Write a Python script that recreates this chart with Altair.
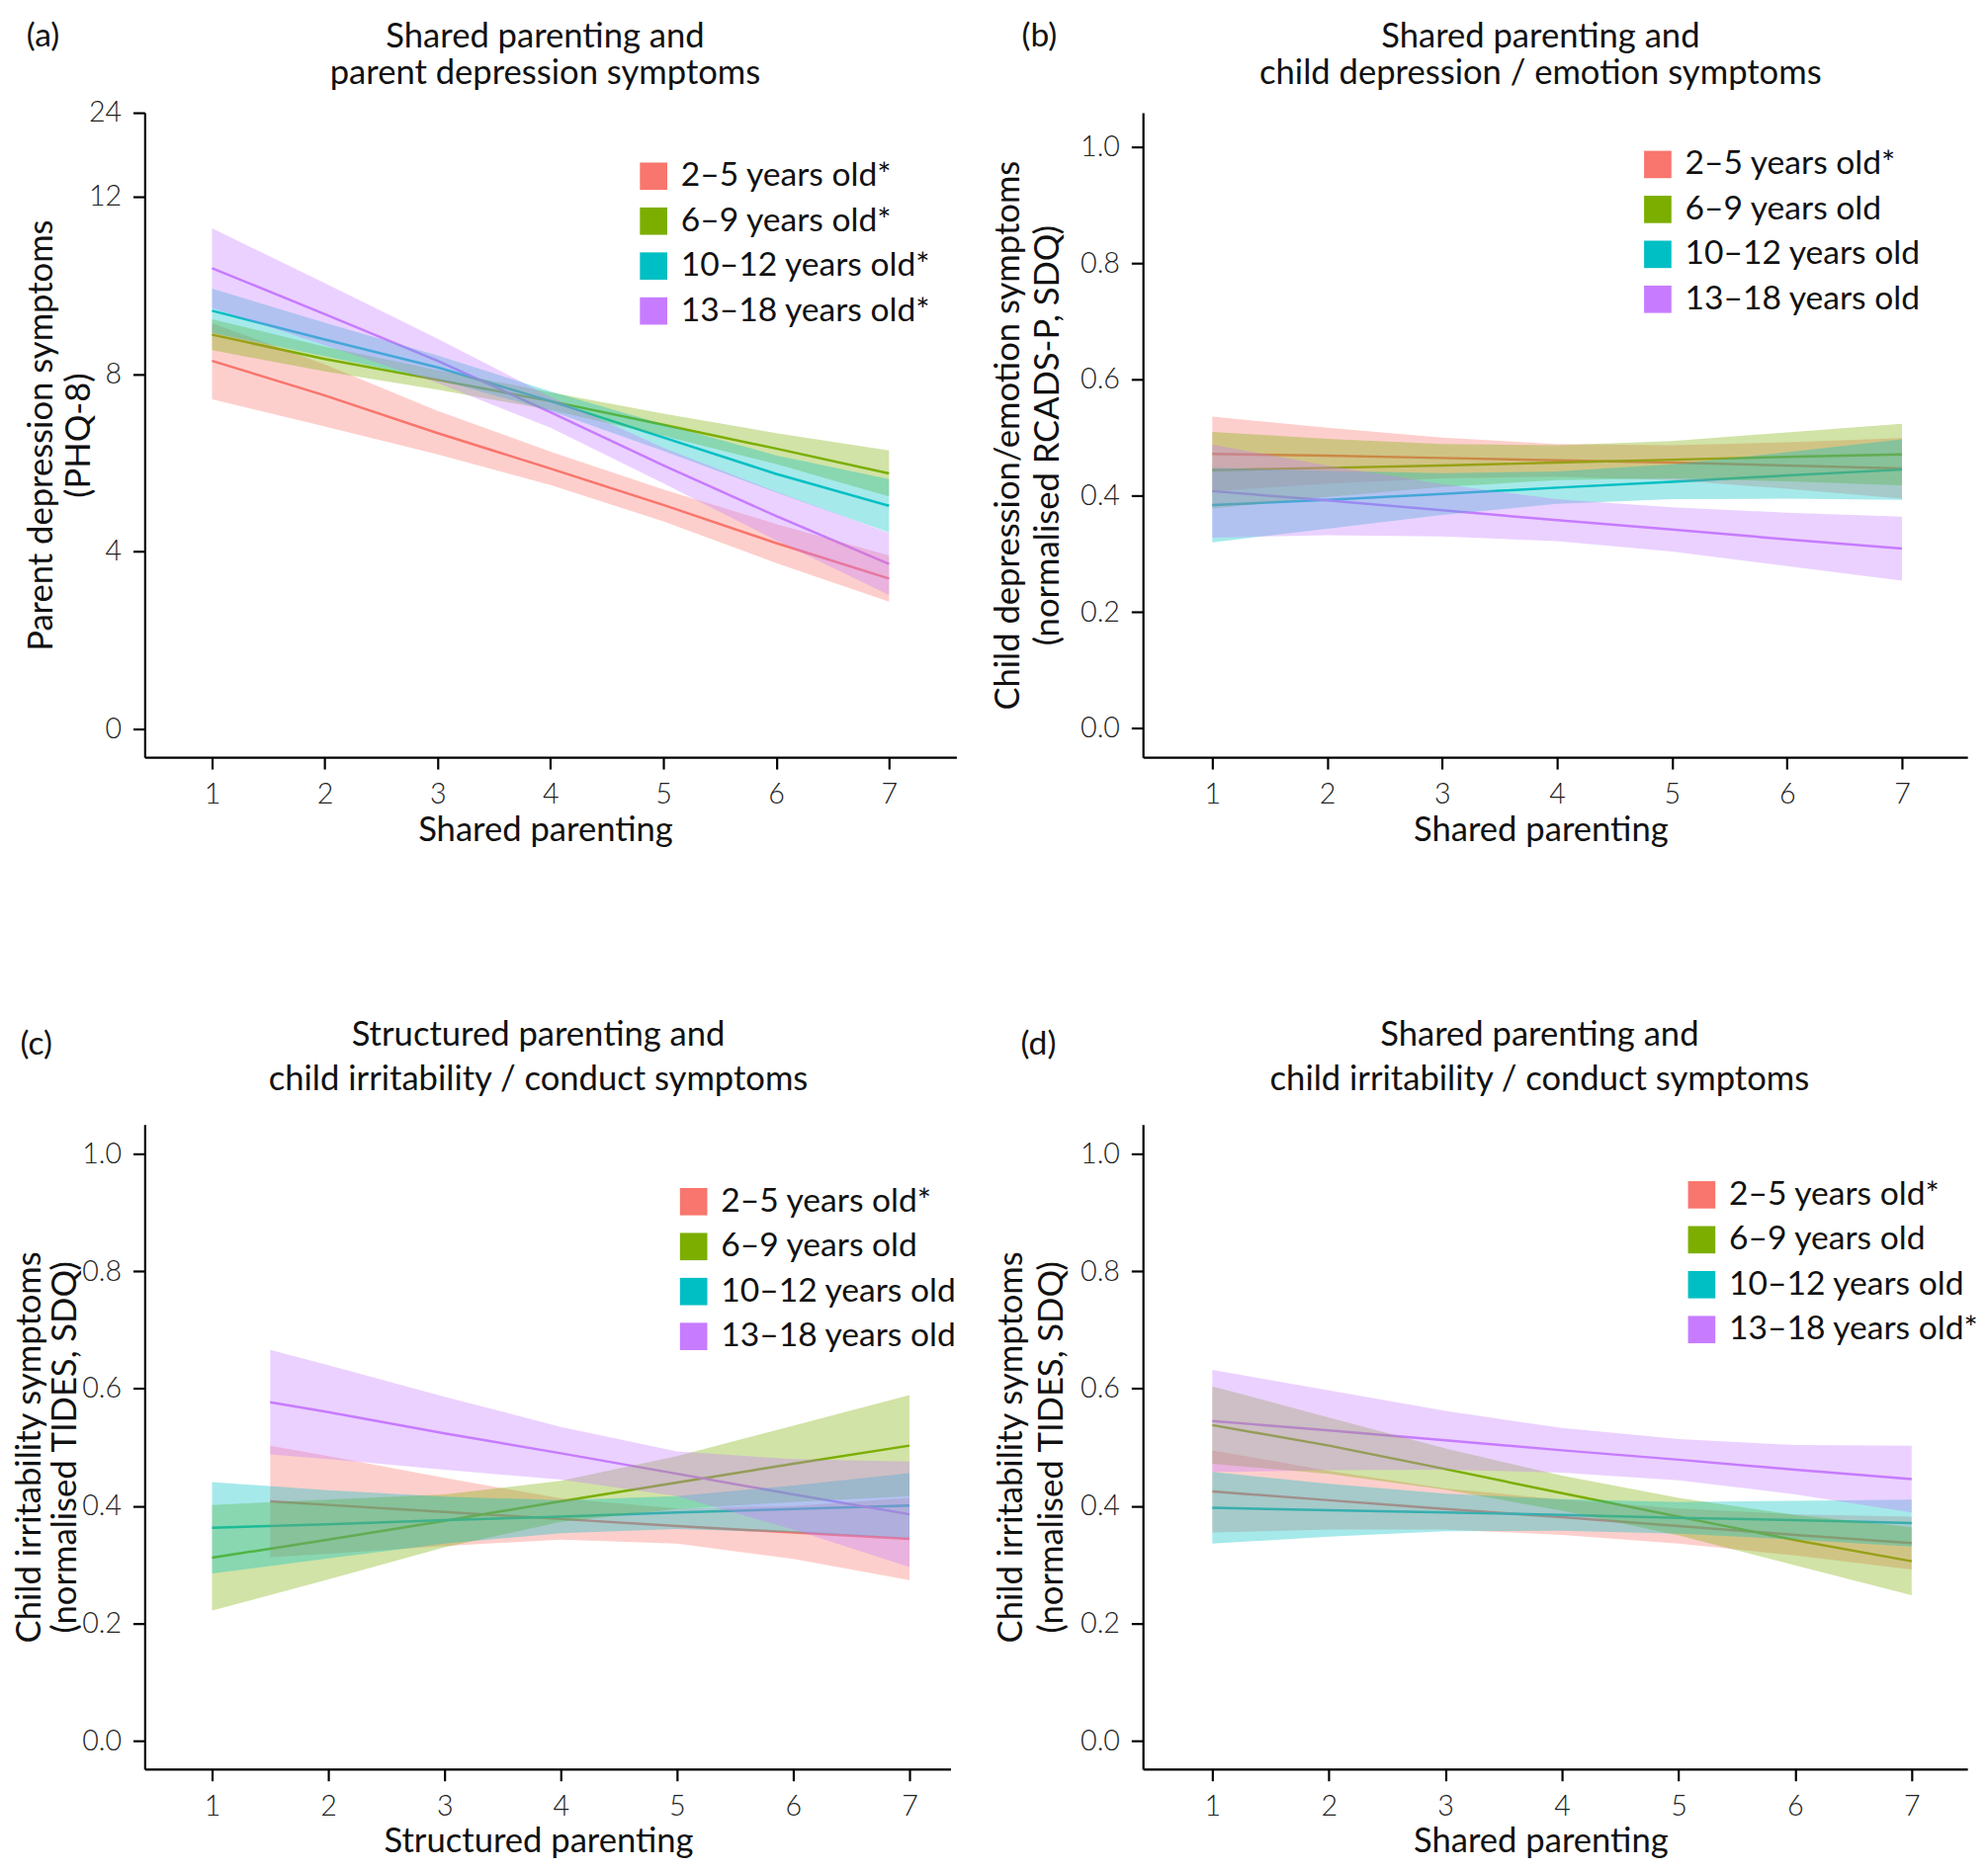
import altair as alt
import pandas as pd

FONT = "Lato"
COLORS = ["#F8766D", "#7CAE00", "#00BFC4", "#C77CFF"]

X_INT = [1, 2, 3, 4, 5, 6, 7]
X_LATE = [1.5, 2, 3, 4, 5, 6, 7]

# ---- Panel (a): parent depression symptoms (PHQ-8)
LAB_A = ["2–5 years old*", "6–9 years old*", "10–12 years old*", "13–18 years old*"]
A_RED_Y = [8.30, 7.52, 6.67, 5.87, 5.05, 4.19, 3.39]
A_RED_LO = [7.43, 6.82, 6.19, 5.50, 4.68, 3.74, 2.87]
A_RED_HI = [9.15, 8.22, 7.17, 6.25, 5.40, 4.62, 3.91]
A_GRN_Y = [8.89, 8.34, 7.87, 7.39, 6.86, 6.32, 5.76]
A_GRN_LO = [8.54, 8.06, 7.65, 7.19, 6.61, 5.97, 5.24]
A_GRN_HI = [9.24, 8.62, 8.09, 7.59, 7.11, 6.67, 6.28]
A_TEA_Y = [9.43, 8.78, 8.15, 7.39, 6.57, 5.75, 5.03]
A_TEA_LO = [8.93, 8.40, 7.88, 7.17, 6.27, 5.33, 4.43]
A_TEA_HI = [9.93, 9.16, 8.42, 7.61, 6.87, 6.17, 5.63]
A_PUR_Y = [10.39, 9.35, 8.30, 7.14, 5.94, 4.80, 3.72]
A_PUR_LO = [9.49, 8.65, 7.80, 6.79, 5.54, 4.25, 3.02]
A_PUR_HI = [11.29, 10.05, 8.80, 7.49, 6.34, 5.35, 4.42]

# ---- Panel (b): child depression / emotion symptoms
LAB_B = ["2–5 years old*", "6–9 years old", "10–12 years old", "13–18 years old"]
B_RED_Y = [0.472, 0.469, 0.465, 0.461, 0.457, 0.452, 0.447]
B_RED_LO = [0.408, 0.421, 0.430, 0.433, 0.427, 0.412, 0.395]
B_RED_HI = [0.536, 0.517, 0.500, 0.489, 0.487, 0.492, 0.499]
B_GRN_Y = [0.444, 0.448, 0.452, 0.457, 0.462, 0.467, 0.471]
B_GRN_LO = [0.378, 0.398, 0.415, 0.427, 0.430, 0.425, 0.418]
B_GRN_HI = [0.510, 0.498, 0.489, 0.487, 0.494, 0.509, 0.524]
B_TEA_Y = [0.384, 0.393, 0.403, 0.414, 0.424, 0.435, 0.445]
B_TEA_LO = [0.320, 0.343, 0.367, 0.386, 0.394, 0.395, 0.393]
B_TEA_HI = [0.448, 0.443, 0.439, 0.442, 0.454, 0.475, 0.497]
B_PUR_Y = [0.408, 0.392, 0.375, 0.358, 0.342, 0.325, 0.309]
B_PUR_LO = [0.328, 0.332, 0.330, 0.322, 0.304, 0.279, 0.254]
B_PUR_HI = [0.488, 0.452, 0.420, 0.394, 0.380, 0.371, 0.364]

# ---- Panel (c): structured parenting, child irritability / conduct
LAB_C = ["2–5 years old*", "6–9 years old", "10–12 years old", "13–18 years old"]
C_RED_Y = [0.408, 0.402, 0.390, 0.378, 0.366, 0.355, 0.344]
C_RED_LO = [0.313, 0.319, 0.332, 0.343, 0.336, 0.310, 0.274]
C_RED_HI = [0.503, 0.485, 0.448, 0.413, 0.396, 0.400, 0.414]
C_GRN_Y = [0.312, 0.343, 0.375, 0.408, 0.440, 0.472, 0.503]
C_GRN_LO = [0.222, 0.275, 0.330, 0.373, 0.395, 0.407, 0.417]
C_GRN_HI = [0.402, 0.411, 0.420, 0.443, 0.485, 0.537, 0.589]
C_TEA_Y = [0.363, 0.369, 0.376, 0.382, 0.389, 0.395, 0.401]
C_TEA_LO = [0.285, 0.311, 0.336, 0.354, 0.361, 0.355, 0.346]
C_TEA_HI = [0.441, 0.427, 0.416, 0.410, 0.417, 0.435, 0.456]
C_PUR_Y = [0.577, 0.560, 0.524, 0.490, 0.455, 0.420, 0.386]
C_PUR_LO = [0.488, 0.480, 0.462, 0.445, 0.417, 0.360, 0.296]
C_PUR_HI = [0.666, 0.640, 0.586, 0.535, 0.493, 0.480, 0.476]

# ---- Panel (d): shared parenting, child irritability / conduct
LAB_D = ["2–5 years old*", "6–9 years old", "10–12 years old", "13–18 years old*"]
D_RED_Y = [0.425, 0.410, 0.395, 0.381, 0.366, 0.351, 0.337]
D_RED_LO = [0.355, 0.360, 0.360, 0.351, 0.336, 0.316, 0.292]
D_RED_HI = [0.495, 0.460, 0.430, 0.411, 0.396, 0.386, 0.382]
D_GRN_Y = [0.538, 0.503, 0.463, 0.422, 0.382, 0.342, 0.306]
D_GRN_LO = [0.472, 0.455, 0.428, 0.392, 0.350, 0.299, 0.248]
D_GRN_HI = [0.604, 0.551, 0.498, 0.452, 0.414, 0.385, 0.364]
D_TEA_Y = [0.397, 0.393, 0.389, 0.385, 0.380, 0.376, 0.371]
D_TEA_LO = [0.336, 0.348, 0.357, 0.358, 0.353, 0.343, 0.331]
D_TEA_HI = [0.458, 0.438, 0.421, 0.412, 0.407, 0.409, 0.411]
D_PUR_Y = [0.545, 0.529, 0.512, 0.495, 0.479, 0.462, 0.446]
D_PUR_LO = [0.458, 0.461, 0.462, 0.457, 0.444, 0.420, 0.389]
D_PUR_HI = [0.632, 0.597, 0.562, 0.533, 0.514, 0.504, 0.503]

Y_TICKS_A = [0, 4, 8, 12, 24]
Y_TICKS_01 = [0.0, 0.2, 0.4, 0.6, 0.8, 1.0]

H = 660
TXT = "#111111"
BIG = 35


def frame(labels, series):
    rows = []
    for lab, (xs, ys, los, his) in zip(labels, series):
        for x, y, lo, hi in zip(xs, ys, los, his):
            rows.append({"g": lab, "x": x, "y": y, "lo": lo, "hi": hi})
    return pd.DataFrame(rows)


def panel(df, labels, width, xdom, xtitle, xtx, yscale, yvals, yfmt, ytitle,
          ytx, ytlh, title, titlexy, titlelh, tag, tagxy, legxy):
    cscale = alt.Scale(domain=labels, range=COLORS)
    # same mapping, listed in reverse so it stays a separate scale/legend
    sscale = alt.Scale(domain=labels[::-1], range=COLORS[::-1])
    xaxis = alt.Axis(values=X_INT, format="d", title=xtitle, titleX=xtx,
                     titleY=74, titleAlign="center", titleBaseline="middle")
    yaxis = alt.Axis(values=yvals, format=yfmt, title=ytitle, titleX=ytx,
                     titleY=H / 2, titleAngle=270, titleAlign="center",
                     titleBaseline="middle", titleLineHeight=ytlh)
    xenc = alt.X("x:Q", scale=alt.Scale(domain=xdom, nice=False, zero=False),
                 axis=xaxis)
    leg = alt.Legend(orient="none", legendX=legxy[0], legendY=legxy[1],
                     title=None, symbolType="square", symbolSize=784,
                     symbolOpacity=1, symbolStrokeWidth=0, labelFont=FONT,
                     labelFontSize=34, labelColor=TXT, labelOffset=11,
                     labelLimit=600, rowPadding=12, padding=0)
    base = alt.Chart(df)
    line = base.mark_line(strokeWidth=2.5).encode(
        x=xenc,
        y=alt.Y("y:Q", scale=yscale, axis=yaxis),
        stroke=alt.Stroke("g:N", scale=sscale, legend=None),
        order="x:Q",
    )
    band = base.mark_area(opacity=0.35).encode(
        x=xenc,
        y=alt.Y("lo:Q", scale=yscale, axis=yaxis),
        y2="hi:Q",
        color=alt.Color("g:N", scale=cscale, legend=leg),
    )
    txt = alt.Chart(pd.DataFrame({"t": [tag]})).mark_text(
        font=FONT, fontSize=34, align="center", baseline="middle", color=TXT
    ).encode(x=alt.value(tagxy[0]), y=alt.value(tagxy[1]), text="t:N")
    ttl = alt.Chart(pd.DataFrame({"t": ["\n".join(title)]})).mark_text(
        font=FONT, fontSize=BIG, align="center", baseline="middle", color=TXT,
        lineBreak="\n", lineHeight=titlelh
    ).encode(x=alt.value(titlexy[0]), y=alt.value(titlexy[1]), text="t:N")
    return alt.layer(line, band, txt, ttl).properties(width=width, height=H)


df_a = frame(LAB_A, [(X_INT, A_RED_Y, A_RED_LO, A_RED_HI),
                     (X_INT, A_GRN_Y, A_GRN_LO, A_GRN_HI),
                     (X_INT, A_TEA_Y, A_TEA_LO, A_TEA_HI),
                     (X_INT, A_PUR_Y, A_PUR_LO, A_PUR_HI)])
df_b = frame(LAB_B, [(X_INT, B_RED_Y, B_RED_LO, B_RED_HI),
                     (X_INT, B_GRN_Y, B_GRN_LO, B_GRN_HI),
                     (X_INT, B_TEA_Y, B_TEA_LO, B_TEA_HI),
                     (X_INT, B_PUR_Y, B_PUR_LO, B_PUR_HI)])
df_c = frame(LAB_C, [(X_LATE, C_RED_Y, C_RED_LO, C_RED_HI),
                     (X_INT, C_GRN_Y, C_GRN_LO, C_GRN_HI),
                     (X_INT, C_TEA_Y, C_TEA_LO, C_TEA_HI),
                     (X_LATE, C_PUR_Y, C_PUR_LO, C_PUR_HI)])
df_d = frame(LAB_D, [(X_INT, D_RED_Y, D_RED_LO, D_RED_HI),
                     (X_INT, D_GRN_Y, D_GRN_LO, D_GRN_HI),
                     (X_INT, D_TEA_Y, D_TEA_LO, D_TEA_HI),
                     (X_INT, D_PUR_Y, D_PUR_LO, D_PUR_HI)])

# piecewise PHQ-8 axis: 0..12 linear, 12..24 compressed
ys_a = alt.Scale(domain=[-0.64, 12, 24], range=[H, 86, 0], nice=False, zero=False)
ys_b = alt.Scale(domain=[-0.050, 1.059], nice=False, zero=False)
ys_c = alt.Scale(domain=[-0.048, 1.050], nice=False, zero=False)

pa = panel(df_a, LAB_A, 831, [0.403, 7.597], "Shared parenting", 410, ys_a,
           Y_TICKS_A, "d", ["Parent depression symptoms", "(PHQ-8)"],
           -106, 39, ["Shared parenting and", "parent depression symptoms"],
           (410, -78), 38, "(a)", (-104, -78), (504, 48))
pb = panel(df_b, LAB_B, 844, [0.397, 7.569], "Shared parenting", 407, ys_b,
           Y_TICKS_01, ".1f",
           ["Child depression/emotion symptoms", "(normalised RCADS-P, SDQ)"],
           -138, 40,
           ["Shared parenting and", "child depression / emotion symptoms"],
           (407, -78), 38, "(b)", (-106, -78), (510, 36))
pc = panel(df_c, LAB_C, 825, [0.42, 7.353], "Structured parenting", 403, ys_c,
           Y_TICKS_01, ".1f",
           ["Child irritability symptoms", "(normalised TIDES, SDQ)"],
           -118, 36,
           ["Structured parenting and", "child irritability / conduct symptoms"],
           (403, -92), 46, "(c)", (-111, -82), (545, 62))
pd_ = panel(df_d, LAB_D, 844, [0.405, 7.478], "Shared parenting", 407, ys_c,
            Y_TICKS_01, ".1f",
            ["Child irritability symptoms", "(normalised TIDES, SDQ)"],
            -135, 41,
            ["Shared parenting and", "child irritability / conduct symptoms"],
            (406, -92), 46, "(d)", (-107, -82), (555, 55))

chart = alt.concat(
    pa, pb, pc, pd_, columns=2, spacing={"row": 376, "column": 191},
    bounds="flush"
).resolve_scale(color="independent", stroke="independent").resolve_legend(
    color="independent", stroke="independent"
).properties(
    padding={"left": 4, "top": 0, "right": 0, "bottom": 0},
    background="white",
).configure_view(stroke="transparent").configure_axis(
    domainColor="black", domainWidth=2.2, tickColor="black", tickWidth=2.2,
    tickSize=12, labelPadding=12, labelFont=FONT, labelFontSize=29,
    labelFontWeight=300, labelColor="#222222", titleFont=FONT,
    titleFontSize=BIG, titleFontWeight="normal", titleColor=TXT, grid=False,
)

chart.save("out.html", embed_options={"renderer": "svg", "actions": False})
